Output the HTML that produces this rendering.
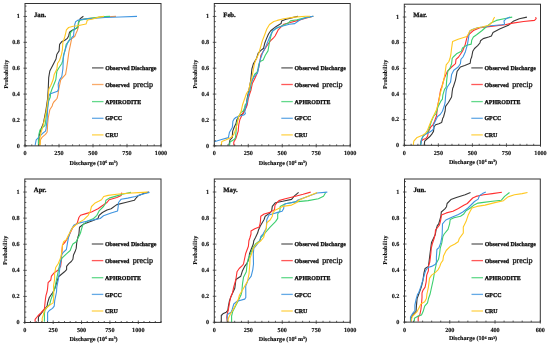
<!DOCTYPE html><html><head><meta charset="utf-8"><style>html,body{margin:0;padding:0;background:#fff;width:550px;height:344px;overflow:hidden}svg{display:block;will-change:transform;filter:blur(0.35px)}text{font-family:"Liberation Serif",serif;font-weight:bold;fill:#111;stroke:#111;stroke-width:0.3px;text-rendering:geometricPrecision}</style></head><body>
<svg width="550" height="344" viewBox="0 0 550 344">
<path d="M38.9 145.5 L39.5 134.4 L41.1 128.9 L43.3 123.5 L44.4 118 L46 109.8 L47.6 98.9 L48.2 90 L48.7 77.6 L49.8 71.1 L51.5 67.8 L54.2 62.4 L56 59 L56.9 54.2 L59.1 50.9 L59.6 44.4 L61.8 41.6 L64.5 40.5 L67.3 38.4 L68.6 36 L69.5 32.3 L71.8 30.5 L74.7 29.1 L77.3 27.9 L78.5 26.2 L78.5 23 L79.1 21.2 L80 18.9 L81.7 17.5 L83.4 16.3" fill="none" stroke="#383838" stroke-width="1.1" stroke-linejoin="round"/>
<path d="M40 145.5 L40.5 139.8 L42.2 137.1 L45.5 134.4 L47.1 132.2 L47.4 128.9 L47.6 124.5 L48.2 118 L49.8 109.8 L52.2 106 L52.8 103.7 L53.8 102 L55.6 100.2 L57 98.5 L57.5 96.7 L58 94.5 L58.8 89 L60.7 79.8 L65.6 74.4 L66.7 67.8 L67.8 60.2 L68.9 52 L70.5 44.4 L71.6 38.9 L74 37 L75 36 L76.2 32.9 L77.3 30.5 L78.2 27.6 L78.5 24.7 L78.6 21.8 L79.5 20 L82 19.2 L90 18.3 L100 17.3 L116 16.4" fill="none" stroke="#f79646" stroke-width="1.1" stroke-linejoin="round"/>
<path d="M38.4 145.5 L38.4 139.8 L38.9 134.4 L40 130 L42.2 127.8 L44.9 125.6 L45.5 122.4 L46 118 L47.1 109.8 L48.7 101 L50.3 97 L50.6 93 L52 89 L53.6 85.3 L55.8 79.8 L56.9 71.1 L59.6 66.7 L61.8 63.5 L62.9 60.2 L63.5 55.3 L65.1 49.8 L66.2 44.4 L68.9 41.1 L70 38.4 L70.4 32.9 L72.4 30.5 L75.9 28.5 L77.9 26.5 L78.2 24.1 L78.5 21.8 L80 20.1 L86 18.9 L95.9 17.5 L105 16.6 L110 16.4" fill="none" stroke="#3ccf6e" stroke-width="1.1" stroke-linejoin="round"/>
<path d="M35.1 145.5 L36.2 139.8 L38.9 137.1 L42.7 133.3 L45.5 131.1 L46 128.9 L46.5 124.5 L47.1 120.2 L47.6 109.8 L48.7 96.7 L49.8 94 L57.5 91.3 L58.5 89.1 L58.2 84.2 L59.6 79.8 L61.8 76.5 L62.9 68.9 L63.2 61.3 L63.2 59 L64 54.2 L66.2 46.5 L68.4 41.1 L71.1 38.9 L72.2 37 L73.6 36 L73.8 32.3 L74.4 28.8 L74.7 24.7 L75.6 21.8 L77.6 20.4 L80.5 19.5 L86.8 18.9 L95.9 18.2 L105 17.5 L120 17 L137 16.4" fill="none" stroke="#3f95e0" stroke-width="1.1" stroke-linejoin="round"/>
<path d="M40 145.5 L40 137.6 L41.1 132.2 L42.2 128.9 L43.3 124.5 L44.4 120.2 L44.9 118 L46.5 109.8 L48 98.9 L48.9 89 L50.9 85.3 L53.1 79.8 L54.2 74.4 L56.9 68.9 L57.5 63.5 L59.6 60.2 L61.3 55.3 L62.4 49.8 L62.9 42.2 L64.5 37.8 L65.6 33.5 L66.4 29.8 L68.6 27.5 L73.2 26.2 L77.7 25.7 L82.3 24.8 L86 24 L86.6 22.5 L87.1 20.6 L88.5 19.8 L91.8 19.3 L99 17.1 L104 16.4" fill="none" stroke="#ffc820" stroke-width="1.1" stroke-linejoin="round"/>
<rect x="25" y="3.5" width="136" height="142.35" fill="none" stroke="#333" stroke-width="1"/>
<path d="M23.5 145.85H27M25 140.67H26.5M25 135.5H26.5M25 130.32H26.5M25 125.14H26.5M23.5 119.97H27M25 114.79H26.5M25 109.62H26.5M25 104.44H26.5M25 99.26H26.5M23.5 94.09H27M25 88.91H26.5M25 83.73H26.5M25 78.56H26.5M25 73.38H26.5M23.5 68.2H27M25 63.03H26.5M25 57.85H26.5M25 52.68H26.5M25 47.5H26.5M23.5 42.32H27M25 37.15H26.5M25 31.97H26.5M25 26.79H26.5M25 21.62H26.5M23.5 16.44H27M25 11.26H26.5M25 6.09H26.5M25 147.35V143.85M31.8 145.85V144.35M38.6 145.85V144.35M45.4 145.85V144.35M52.2 145.85V144.35M59 147.35V143.85M65.8 145.85V144.35M72.6 145.85V144.35M79.4 145.85V144.35M86.2 145.85V144.35M93 147.35V143.85M99.8 145.85V144.35M106.6 145.85V144.35M113.4 145.85V144.35M120.2 145.85V144.35M127 147.35V143.85M133.8 145.85V144.35M140.6 145.85V144.35M147.4 145.85V144.35M154.2 145.85V144.35M161 147.35V143.85" stroke="#333" stroke-width="0.8" fill="none"/>
<text transform="translate(19.9 147.65)" font-size="6.2" text-anchor="end" style="stroke-width:0.13px">0</text>
<text transform="translate(19.9 121.77)" font-size="6.2" text-anchor="end" style="stroke-width:0.13px">0.2</text>
<text transform="translate(19.9 95.89)" font-size="6.2" text-anchor="end" style="stroke-width:0.13px">0.4</text>
<text transform="translate(19.9 70)" font-size="6.2" text-anchor="end" style="stroke-width:0.13px">0.6</text>
<text transform="translate(19.9 44.12)" font-size="6.2" text-anchor="end" style="stroke-width:0.13px">0.8</text>
<text transform="translate(19.9 18.24)" font-size="6.2" text-anchor="end" style="stroke-width:0.13px">1</text>
<text transform="translate(25 155.35)" font-size="6.2" text-anchor="middle" style="stroke-width:0.13px">0</text>
<text transform="translate(59 155.35)" font-size="6.2" text-anchor="middle" style="stroke-width:0.13px">250</text>
<text transform="translate(93 155.35)" font-size="6.2" text-anchor="middle" style="stroke-width:0.13px">500</text>
<text transform="translate(127 155.35)" font-size="6.2" text-anchor="middle" style="stroke-width:0.13px">750</text>
<text transform="translate(161 155.35)" font-size="6.2" text-anchor="middle" style="stroke-width:0.13px">1000</text>
<text transform="translate(7.6 74.17) rotate(-90)" font-size="6.0" text-anchor="middle" style="stroke-width:0.08px">Probability</text>
<text transform="translate(93.6 164.85)" font-size="6.1" text-anchor="middle" style="stroke-width:0.18px">Discharge (10<tspan font-size="3.8" dy="-1.9">6</tspan><tspan dy="1.9"> m</tspan><tspan font-size="3.8" dy="-1.9">3</tspan><tspan dy="1.9">)</tspan></text>
<text transform="translate(34 16.7)" font-size="6.7">Jan.</text>
<path d="M92 67.9H103.5" stroke="#383838" stroke-width="1.3" stroke-opacity="0.8"/>
<text x="105.2" y="70" font-size="5.95">Observed Discharge</text>
<path d="M92 84.5H103.5" stroke="#f79646" stroke-width="1.3" stroke-opacity="0.8"/>
<text transform="translate(105.2 86.6)" font-size="5.95">Observed</text>
<text transform="translate(132.9 86.9)" font-size="8.1" style="font-weight:normal;stroke-width:0.3px">precip</text>
<path d="M92 101.6H103.5" stroke="#3ccf6e" stroke-width="1.3" stroke-opacity="0.8"/>
<text x="105.2" y="103.7" font-size="5.95">APHRODITE</text>
<path d="M92 118.3H103.5" stroke="#3f95e0" stroke-width="1.3" stroke-opacity="0.8"/>
<text x="105.2" y="120.4" font-size="5.95">GPCC</text>
<path d="M92 134.9H103.5" stroke="#ffc820" stroke-width="1.3" stroke-opacity="0.8"/>
<text x="105.2" y="137" font-size="5.95">CRU</text>
<path d="M228.9 145.3 L230 139.8 L232.2 137.6 L232.7 131.1 L234.4 126.7 L236 123.5 L236.7 120.1 L237.6 118.4 L239.3 116 L241 114.9 L242.8 113.7 L244 111.4 L245.4 108.5 L246.5 104.4 L247.1 98.9 L249.3 88 L250.8 79.8 L251.9 68.9 L253.5 63.5 L256.5 58.5 L258.2 53.1 L260.9 50.4 L263.6 48.2 L264.7 43.3 L266.4 38.9 L268.5 34 L270.7 30.7 L276.2 26.4 L281.1 23.6 L281.6 20.9 L286 19.3 L292.5 17.6 L298 16.3" fill="none" stroke="#383838" stroke-width="1.1" stroke-linejoin="round"/>
<path d="M233.8 145.3 L233.8 142 L236 138.2 L238.2 131.1 L238.7 125 L239.9 119.5 L241.6 116 L242.5 114.3 L243.4 112.6 L244.5 110.8 L246 107.9 L247.2 105 L248.2 98.9 L249.8 93.5 L251 90 L252.3 83.6 L255.3 77.5 L257.5 72.2 L258.8 67 L260.1 60 L260.9 55.3 L263.6 50.9 L266.4 46.5 L270.2 41.1 L273.5 37.8 L275.1 36 L278.4 29.6 L283.8 24.2 L290.4 22.5 L298 20.4 L305.6 18.2 L313.3 16.2" fill="none" stroke="#ff3030" stroke-width="1.1" stroke-linejoin="round"/>
<path d="M229.5 145.3 L230 142 L234.4 139.3 L235.5 137.6 L236 132.2 L236.5 126.7 L236.4 125 L237.6 120.1 L238.7 116.6 L240.8 112.6 L243.4 110.8 L244.5 107.9 L245.1 105 L246.5 103 L247.6 98.9 L248.7 93.5 L250.1 90 L251.4 82.7 L253.6 76.6 L254.9 74 L257.1 72.2 L258 68.7 L258.8 64.4 L259.7 61.7 L263.2 60 L265.3 55.3 L268 50.9 L269.1 44.4 L270.2 38.9 L271.3 34.5 L272.4 31.3 L275.1 29.1 L280.5 26.4 L288.2 23.1 L290.4 20.9 L296.9 19.8 L305.6 17.6 L313.3 16.2" fill="none" stroke="#3ccf6e" stroke-width="1.1" stroke-linejoin="round"/>
<path d="M214.3 141.8 L220.7 139.8 L228.4 137.6 L229.5 132.2 L232.2 127.8 L232.6 125 L232.9 121.3 L234.1 119 L235.8 117.5 L238.1 116.6 L241.6 115.5 L244 114.9 L245.4 113.7 L244.8 112 L245.1 109.7 L245.7 106.7 L246.3 105 L247.1 102 L248.7 93.5 L249.7 90 L250.5 84.4 L252.7 79.2 L254.9 75.7 L257.5 73.1 L258.8 67 L260.1 60 L262.5 53.1 L265.8 46.5 L268.5 40 L271.3 33.5 L272.9 30.7 L277.3 27.5 L283.8 25.8 L289.3 24.2 L294.7 23.6 L296.9 22 L300.2 19.8 L307.8 17.1 L313.3 16.2" fill="none" stroke="#3f95e0" stroke-width="1.1" stroke-linejoin="round"/>
<path d="M221.3 145.3 L221.8 141.5 L226.2 139.8 L231.1 137.6 L233.8 134.4 L235.5 130 L236.5 126 L237 125 L237.6 121.3 L238.7 116.6 L240.2 113.7 L241.3 110.8 L241.9 107.9 L242.5 105 L243.8 101.1 L246.5 93.5 L248.8 90 L250.1 83.6 L251.9 77.5 L253.2 70.5 L254.5 63.5 L255.8 60 L258.7 53.7 L261 45.6 L262.3 40.9 L264.6 35 L266.8 29 L269.5 24.5 L273.8 21.5 L277.3 20.4 L283.8 18.7 L294.7 17.1 L305.6 16.2 L310 16.2" fill="none" stroke="#ffc820" stroke-width="1.1" stroke-linejoin="round"/>
<rect x="214.3" y="3.5" width="135.9" height="142.35" fill="none" stroke="#333" stroke-width="1"/>
<path d="M212.8 145.85H216.3M214.3 140.67H215.8M214.3 135.5H215.8M214.3 130.32H215.8M214.3 125.14H215.8M212.8 119.97H216.3M214.3 114.79H215.8M214.3 109.62H215.8M214.3 104.44H215.8M214.3 99.26H215.8M212.8 94.09H216.3M214.3 88.91H215.8M214.3 83.73H215.8M214.3 78.56H215.8M214.3 73.38H215.8M212.8 68.2H216.3M214.3 63.03H215.8M214.3 57.85H215.8M214.3 52.68H215.8M214.3 47.5H215.8M212.8 42.32H216.3M214.3 37.15H215.8M214.3 31.97H215.8M214.3 26.79H215.8M214.3 21.62H215.8M212.8 16.44H216.3M214.3 11.26H215.8M214.3 6.09H215.8M214.3 147.35V143.85M221.09 145.85V144.35M227.89 145.85V144.35M234.69 145.85V144.35M241.48 145.85V144.35M248.28 147.35V143.85M255.07 145.85V144.35M261.87 145.85V144.35M268.66 145.85V144.35M275.45 145.85V144.35M282.25 147.35V143.85M289.04 145.85V144.35M295.84 145.85V144.35M302.63 145.85V144.35M309.43 145.85V144.35M316.22 147.35V143.85M323.02 145.85V144.35M329.81 145.85V144.35M336.61 145.85V144.35M343.4 145.85V144.35M350.2 147.35V143.85" stroke="#333" stroke-width="0.8" fill="none"/>
<text transform="translate(209.2 147.65)" font-size="6.2" text-anchor="end" style="stroke-width:0.13px">0</text>
<text transform="translate(209.2 121.77)" font-size="6.2" text-anchor="end" style="stroke-width:0.13px">0.2</text>
<text transform="translate(209.2 95.89)" font-size="6.2" text-anchor="end" style="stroke-width:0.13px">0.4</text>
<text transform="translate(209.2 70)" font-size="6.2" text-anchor="end" style="stroke-width:0.13px">0.6</text>
<text transform="translate(209.2 44.12)" font-size="6.2" text-anchor="end" style="stroke-width:0.13px">0.8</text>
<text transform="translate(209.2 18.24)" font-size="6.2" text-anchor="end" style="stroke-width:0.13px">1</text>
<text transform="translate(214.3 155.35)" font-size="6.2" text-anchor="middle" style="stroke-width:0.13px">0</text>
<text transform="translate(248.28 155.35)" font-size="6.2" text-anchor="middle" style="stroke-width:0.13px">250</text>
<text transform="translate(282.25 155.35)" font-size="6.2" text-anchor="middle" style="stroke-width:0.13px">500</text>
<text transform="translate(316.22 155.35)" font-size="6.2" text-anchor="middle" style="stroke-width:0.13px">750</text>
<text transform="translate(350.2 155.35)" font-size="6.2" text-anchor="middle" style="stroke-width:0.13px">1000</text>
<text transform="translate(196.9 74.17) rotate(-90)" font-size="6.0" text-anchor="middle" style="stroke-width:0.08px">Probability</text>
<text transform="translate(282.85 164.85)" font-size="6.1" text-anchor="middle" style="stroke-width:0.18px">Discharge (10<tspan font-size="3.8" dy="-1.9">6</tspan><tspan dy="1.9"> m</tspan><tspan font-size="3.8" dy="-1.9">3</tspan><tspan dy="1.9">)</tspan></text>
<text transform="translate(223.3 16.7)" font-size="6.7">Feb.</text>
<path d="M281.3 67.9H292.8" stroke="#383838" stroke-width="1.3" stroke-opacity="0.8"/>
<text x="294.5" y="70" font-size="5.95">Observed Discharge</text>
<path d="M281.3 84.5H292.8" stroke="#ff3030" stroke-width="1.3" stroke-opacity="0.8"/>
<text transform="translate(294.5 86.6)" font-size="5.95">Observed</text>
<text transform="translate(322.2 86.9)" font-size="8.1" style="font-weight:normal;stroke-width:0.3px">precip</text>
<path d="M281.3 101.6H292.8" stroke="#3ccf6e" stroke-width="1.3" stroke-opacity="0.8"/>
<text x="294.5" y="103.7" font-size="5.95">APHRODITE</text>
<path d="M281.3 118.3H292.8" stroke="#3f95e0" stroke-width="1.3" stroke-opacity="0.8"/>
<text x="294.5" y="120.4" font-size="5.95">GPCC</text>
<path d="M281.3 134.9H292.8" stroke="#ffc820" stroke-width="1.3" stroke-opacity="0.8"/>
<text x="294.5" y="137" font-size="5.95">CRU</text>
<path d="M424.2 145 L424.7 141.2 L426.9 139 L429.6 136.8 L431.8 134.1 L433.5 131.4 L434 127 L435.6 124.8 L438.9 123.7 L441.6 122.6 L442.2 120.5 L442.7 118.3 L443.5 117 L445.1 111.2 L445.6 106.3 L448.4 102.5 L451.6 97 L452.2 91.5 L452.7 88.3 L453.3 87 L455.5 80.1 L457.1 71.4 L460.4 67 L464.7 65.4 L470.2 63.2 L470.7 59.4 L471.7 57 L472.8 51.2 L474.5 48.5 L477.7 45.7 L479.9 43 L480.5 40.8 L483.2 38.6 L488.6 37 L491.4 35.9 L493 32.6 L499.6 29.1 L508.4 25.3 L513.8 20.9 L519.3 18.7 L526.9 17.1" fill="none" stroke="#383838" stroke-width="1.1" stroke-linejoin="round"/>
<path d="M420.4 145 L420.9 141.2 L423.1 139.5 L425.8 138.5 L427.5 136.3 L428.5 131.4 L430.7 127 L432.9 124.8 L434.5 121.5 L435.6 118.3 L436.5 116 L437.5 106.8 L439.6 95.9 L440.7 89.4 L441.8 87 L444 79 L447.3 71.4 L451.6 67 L455.5 63.7 L456 59.4 L458.6 57 L462.5 51.2 L465.2 44.6 L466.8 38.1 L468.5 34.8 L473.4 30.5 L479.9 27.7 L490.9 26.4 L505.1 24.7 L512.7 23.1 L523.6 21.5 L534.5 20.4 L536.2 18.7 L535.6 17.1" fill="none" stroke="#ff3030" stroke-width="1.1" stroke-linejoin="round"/>
<path d="M420.4 145 L421.5 139 L423.6 135.7 L427.5 132.5 L429.6 127 L431.3 121.5 L433.5 116.5 L435.8 114 L438 106.8 L440.7 101.4 L442.4 99.2 L442.9 94.8 L444.5 89.4 L446.2 87 L446.7 80.1 L447.8 71.4 L450 68.1 L451.6 63.7 L452.2 58.3 L453.2 57 L457 53.4 L461.4 51.2 L462.5 47.9 L466.8 45.2 L471.2 44.1 L471.7 40.3 L473.4 37 L476.6 34.8 L482.1 30.5 L485.5 27.5 L490.9 23.1 L496.4 20.4 L504 18.7 L512.2 17.1" fill="none" stroke="#3ccf6e" stroke-width="1.1" stroke-linejoin="round"/>
<path d="M420.9 145 L421.5 140.1 L423.1 135.7 L425.8 134.1 L429.1 132.5 L432.4 130.3 L434 128.1 L433.5 124.8 L435.1 121.5 L436.7 118.3 L437.5 116.5 L440.2 114.5 L442.4 111.2 L444 106.8 L445.1 102.5 L445.6 95.9 L446.2 90.5 L447.3 87 L450.5 82.3 L451.6 74.6 L453.8 70.3 L458.2 67 L460.4 63.7 L460.9 59.4 L463 57 L465.2 52.3 L467.4 44.6 L468.5 38.1 L469.5 31.5 L472.3 29.4 L477.7 27.7 L490.9 25.8 L501.8 24.7 L504.5 24.2 L504 20.9 L506.2 18.7 L510 17.1" fill="none" stroke="#3f95e0" stroke-width="1.1" stroke-linejoin="round"/>
<path d="M413.3 145 L413.8 141.2 L417.1 137.4 L422.5 135.2 L425.3 133.5 L427.5 130.3 L429.6 124.8 L431.8 119.4 L433.5 116 L436.4 110.1 L438.5 102.5 L440.2 93.7 L441.8 88 L444 79 L445.1 72.5 L446.2 64.8 L448.9 61.5 L450 58.3 L450.8 55 L451.5 49 L452.6 41.4 L458.1 39.2 L466.8 36.5 L468.5 33.7 L470.1 30.5 L477.7 27.7 L482 27 L488.7 25.3 L492.5 22 L493.6 18.7 L494.7 17.1" fill="none" stroke="#ffc820" stroke-width="1.1" stroke-linejoin="round"/>
<rect x="404.3" y="4.2" width="136.2" height="141.1" fill="none" stroke="#333" stroke-width="1"/>
<path d="M402.8 145.3H406.3M404.3 140.17H405.8M404.3 135.04H405.8M404.3 129.91H405.8M404.3 124.78H405.8M402.8 119.65H406.3M404.3 114.51H405.8M404.3 109.38H405.8M404.3 104.25H405.8M404.3 99.12H405.8M402.8 93.99H406.3M404.3 88.86H405.8M404.3 83.73H405.8M404.3 78.6H405.8M404.3 73.47H405.8M402.8 68.34H406.3M404.3 63.21H405.8M404.3 58.07H405.8M404.3 52.94H405.8M404.3 47.81H405.8M402.8 42.68H406.3M404.3 37.55H405.8M404.3 32.42H405.8M404.3 27.29H405.8M404.3 22.16H405.8M402.8 17.03H406.3M404.3 11.9H405.8M404.3 6.77H405.8M404.3 146.8V143.3M411.11 145.3V143.8M417.92 145.3V143.8M424.73 145.3V143.8M431.54 145.3V143.8M438.35 146.8V143.3M445.16 145.3V143.8M451.97 145.3V143.8M458.78 145.3V143.8M465.59 145.3V143.8M472.4 146.8V143.3M479.21 145.3V143.8M486.02 145.3V143.8M492.83 145.3V143.8M499.64 145.3V143.8M506.45 146.8V143.3M513.26 145.3V143.8M520.07 145.3V143.8M526.88 145.3V143.8M533.69 145.3V143.8M540.5 146.8V143.3" stroke="#333" stroke-width="0.8" fill="none"/>
<text transform="translate(399.2 147.1)" font-size="6.2" text-anchor="end" style="stroke-width:0.13px">0</text>
<text transform="translate(399.2 121.45)" font-size="6.2" text-anchor="end" style="stroke-width:0.13px">0.2</text>
<text transform="translate(399.2 95.79)" font-size="6.2" text-anchor="end" style="stroke-width:0.13px">0.4</text>
<text transform="translate(399.2 70.14)" font-size="6.2" text-anchor="end" style="stroke-width:0.13px">0.6</text>
<text transform="translate(399.2 44.48)" font-size="6.2" text-anchor="end" style="stroke-width:0.13px">0.8</text>
<text transform="translate(399.2 18.83)" font-size="6.2" text-anchor="end" style="stroke-width:0.13px">1</text>
<text transform="translate(404.3 154.8)" font-size="6.2" text-anchor="middle" style="stroke-width:0.13px">0</text>
<text transform="translate(438.35 154.8)" font-size="6.2" text-anchor="middle" style="stroke-width:0.13px">250</text>
<text transform="translate(472.4 154.8)" font-size="6.2" text-anchor="middle" style="stroke-width:0.13px">500</text>
<text transform="translate(506.45 154.8)" font-size="6.2" text-anchor="middle" style="stroke-width:0.13px">750</text>
<text transform="translate(540.5 154.8)" font-size="6.2" text-anchor="middle" style="stroke-width:0.13px">1000</text>
<text transform="translate(386.9 74.25) rotate(-90)" font-size="6.0" text-anchor="middle" style="stroke-width:0.08px">Probability</text>
<text transform="translate(473 164.3)" font-size="6.1" text-anchor="middle" style="stroke-width:0.18px">Discharge (10<tspan font-size="3.8" dy="-1.9">6</tspan><tspan dy="1.9"> m</tspan><tspan font-size="3.8" dy="-1.9">3</tspan><tspan dy="1.9">)</tspan></text>
<text transform="translate(413.3 16.7)" font-size="6.7">Mar.</text>
<path d="M471.3 67.9H482.8" stroke="#383838" stroke-width="1.3" stroke-opacity="0.8"/>
<text x="484.5" y="70" font-size="5.95">Observed Discharge</text>
<path d="M471.3 84.5H482.8" stroke="#ff3030" stroke-width="1.3" stroke-opacity="0.8"/>
<text transform="translate(484.5 86.6)" font-size="5.95">Observed</text>
<text transform="translate(512.2 86.9)" font-size="8.1" style="font-weight:normal;stroke-width:0.3px">precip</text>
<path d="M471.3 101.6H482.8" stroke="#3ccf6e" stroke-width="1.3" stroke-opacity="0.8"/>
<text x="484.5" y="103.7" font-size="5.95">APHRODITE</text>
<path d="M471.3 118.3H482.8" stroke="#3f95e0" stroke-width="1.3" stroke-opacity="0.8"/>
<text x="484.5" y="120.4" font-size="5.95">GPCC</text>
<path d="M471.3 134.9H482.8" stroke="#ffc820" stroke-width="1.3" stroke-opacity="0.8"/>
<text x="484.5" y="137" font-size="5.95">CRU</text>
<path d="M38.4 321.7 L38.4 317.1 L40 314.9 L42.2 312.2 L44.4 309.5 L47.1 306.2 L47.6 302.9 L49.3 297.5 L51.5 294.2 L52.5 293 L55 288 L58.5 276.7 L61.2 274.5 L64.5 271.8 L66.6 269.6 L66.6 266.4 L68.8 263.6 L71.3 261.5 L72.9 259.3 L73.5 254.9 L75.1 251.6 L76.2 248.4 L76.7 242.9 L77.8 237.5 L78.9 234.2 L79.5 227.3 L83.8 224 L92.5 220.7 L98 218.5 L99.1 215.3 L102.4 212.5 L107 210 L111.1 208.7 L116.8 204.6 L125.5 202.5 L134.3 200.3 L136.5 197.5 L138.6 195.4 L146.3 192.6 L149 192" fill="none" stroke="#383838" stroke-width="1.1" stroke-linejoin="round"/>
<path d="M35.1 321.7 L35.1 319.3 L37.8 316 L41.1 312.7 L44.4 308.9 L44.9 304 L45.5 298.5 L46 295.3 L47 292 L47.5 289.3 L48.1 282.7 L50.8 280 L51.4 276.2 L54.1 272.9 L57.9 270.2 L60.6 266.4 L61.2 262 L62 250.5 L62.5 245.1 L65.3 241.8 L67.5 238.5 L69.6 234.2 L72.9 227.3 L77.3 222.9 L78.9 217.5 L80.5 215.3 L86 213.6 L91.5 212 L98 208.7 L101.5 206.3 L107 202.5 L109.2 199.7 L116.8 197.5 L121.2 195.4 L121.7 192.6" fill="none" stroke="#ff3030" stroke-width="1.1" stroke-linejoin="round"/>
<path d="M44.4 321.7 L44.4 313.8 L44.9 310.5 L47.1 307.3 L49.8 304 L50.9 299.6 L52.5 295.3 L53.5 292 L54.6 289.3 L56.3 280.5 L57.9 272.9 L59 267.5 L60 263 L62 258.2 L66.4 253.8 L70.2 250.5 L71.8 246.2 L72.9 244 L76.2 241.8 L77.8 238.5 L79.5 235.3 L80.8 232 L81.1 230.5 L82.7 225.1 L87.1 221.3 L93.6 218.5 L96.9 215.3 L99.1 210.9 L103.5 206.5 L105.2 204 L105.9 200.3 L109.2 198.1 L116.8 195.9 L122.3 194.3 L131 192.4" fill="none" stroke="#3ccf6e" stroke-width="1.1" stroke-linejoin="round"/>
<path d="M47.6 321.7 L47.6 312.7 L49.3 310.5 L52.5 308.4 L54.2 306.2 L54.7 300.7 L55.8 295.3 L56.5 292 L56.8 287.1 L58.5 278.4 L59.5 270.7 L60.4 264 L61.5 254.9 L63.1 252.7 L66.4 249.5 L67.5 242.9 L68.5 237.5 L70.2 232 L70.7 230.5 L74 225.1 L79.5 222.9 L87.1 221.3 L94.7 219.6 L100.2 218.5 L103.5 215.8 L111.1 213.1 L117.6 210.9 L118.2 206.5 L118.5 202.5 L121.2 199.2 L127.7 198.1 L135.4 196.5 L138.6 195.4 L144.1 193.7 L149.5 192.4" fill="none" stroke="#3f95e0" stroke-width="1.1" stroke-linejoin="round"/>
<path d="M42.2 321.7 L42.2 318.2 L43.3 314.9 L44.4 310.5 L46.5 307.8 L49.8 305.1 L53.1 302.9 L53.6 298.5 L53.8 294.2 L53.5 286 L54.6 279.5 L54.6 274 L55.7 267.5 L58.3 263.5 L60.9 257.1 L62 250.5 L62.5 245.1 L63.6 241.8 L66.4 239.6 L68.5 235 L72.9 227.3 L78.4 222.9 L83.8 219.6 L88.2 215.3 L90.4 210.9 L91.5 206.5 L94.7 203.3 L99.1 201.1 L101.5 199.7 L103.7 196.5 L108.1 195.4 L116.8 194.3 L127.7 193.2 L138.6 192.6 L147.4 192.1" fill="none" stroke="#ffc820" stroke-width="1.1" stroke-linejoin="round"/>
<rect x="24.8" y="179" width="136.2" height="143.5" fill="none" stroke="#333" stroke-width="1"/>
<path d="M23.3 322.5H26.8M24.8 317.28H26.3M24.8 312.06H26.3M24.8 306.85H26.3M24.8 301.63H26.3M23.3 296.41H26.8M24.8 291.19H26.3M24.8 285.97H26.3M24.8 280.75H26.3M24.8 275.54H26.3M23.3 270.32H26.8M24.8 265.1H26.3M24.8 259.88H26.3M24.8 254.66H26.3M24.8 249.45H26.3M23.3 244.23H26.8M24.8 239.01H26.3M24.8 233.79H26.3M24.8 228.57H26.3M24.8 223.35H26.3M23.3 218.14H26.8M24.8 212.92H26.3M24.8 207.7H26.3M24.8 202.48H26.3M24.8 197.26H26.3M23.3 192.05H26.8M24.8 186.83H26.3M24.8 181.61H26.3M24.8 324V320.5M30.48 322.5V321M36.15 322.5V321M41.83 322.5V321M47.5 322.5V321M53.17 324V320.5M58.85 322.5V321M64.52 322.5V321M70.2 322.5V321M75.88 322.5V321M81.55 324V320.5M87.22 322.5V321M92.9 322.5V321M98.57 322.5V321M104.25 322.5V321M109.92 324V320.5M115.6 322.5V321M121.27 322.5V321M126.95 322.5V321M132.62 322.5V321M138.3 324V320.5M143.97 322.5V321M149.65 322.5V321M155.32 322.5V321M161 322.5V321" stroke="#333" stroke-width="0.8" fill="none"/>
<text transform="translate(19.7 324.3)" font-size="6.2" text-anchor="end" style="stroke-width:0.13px">0</text>
<text transform="translate(19.7 298.21)" font-size="6.2" text-anchor="end" style="stroke-width:0.13px">0.2</text>
<text transform="translate(19.7 272.12)" font-size="6.2" text-anchor="end" style="stroke-width:0.13px">0.4</text>
<text transform="translate(19.7 246.03)" font-size="6.2" text-anchor="end" style="stroke-width:0.13px">0.6</text>
<text transform="translate(19.7 219.94)" font-size="6.2" text-anchor="end" style="stroke-width:0.13px">0.8</text>
<text transform="translate(19.7 193.85)" font-size="6.2" text-anchor="end" style="stroke-width:0.13px">1</text>
<text transform="translate(24.8 332)" font-size="6.2" text-anchor="middle" style="stroke-width:0.13px">0</text>
<text transform="translate(53.17 332)" font-size="6.2" text-anchor="middle" style="stroke-width:0.13px">250</text>
<text transform="translate(81.55 332)" font-size="6.2" text-anchor="middle" style="stroke-width:0.13px">500</text>
<text transform="translate(109.92 332)" font-size="6.2" text-anchor="middle" style="stroke-width:0.13px">750</text>
<text transform="translate(138.3 332)" font-size="6.2" text-anchor="middle" style="stroke-width:0.13px">1000</text>
<text transform="translate(7.4 250.25) rotate(-90)" font-size="6.0" text-anchor="middle" style="stroke-width:0.08px">Probability</text>
<text transform="translate(93.5 340.8)" font-size="6.1" text-anchor="middle" style="stroke-width:0.18px">Discharge (10<tspan font-size="3.8" dy="-1.9">6</tspan><tspan dy="1.9"> m</tspan><tspan font-size="3.8" dy="-1.9">3</tspan><tspan dy="1.9">)</tspan></text>
<text transform="translate(33.8 192.4)" font-size="6.7">Apr.</text>
<path d="M91.8 244H103.3" stroke="#383838" stroke-width="1.3" stroke-opacity="0.8"/>
<text x="105" y="246.1" font-size="5.95">Observed Discharge</text>
<path d="M91.8 260.6H103.3" stroke="#ff3030" stroke-width="1.3" stroke-opacity="0.8"/>
<text transform="translate(105 262.7)" font-size="5.95">Observed</text>
<text transform="translate(132.7 262.5)" font-size="8.1" style="font-weight:normal;stroke-width:0.3px">precip</text>
<path d="M91.8 277.7H103.3" stroke="#3ccf6e" stroke-width="1.3" stroke-opacity="0.8"/>
<text x="105" y="279.8" font-size="5.95">APHRODITE</text>
<path d="M91.8 294.4H103.3" stroke="#3f95e0" stroke-width="1.3" stroke-opacity="0.8"/>
<text x="105" y="296.5" font-size="5.95">GPCC</text>
<path d="M91.8 311H103.3" stroke="#ffc820" stroke-width="1.3" stroke-opacity="0.8"/>
<text x="105" y="313.1" font-size="5.95">CRU</text>
<path d="M221.3 322 L221.3 315.5 L222.9 313.8 L226.2 312.2 L227.8 310.5 L228.4 306.2 L229.5 300.7 L231.1 296.4 L232.6 293 L234.8 288.2 L235.9 279.5 L240.8 276.2 L242.5 270.7 L244.6 266.4 L246.8 263.6 L248 261 L248.9 258.2 L249.5 253.8 L251.1 249.5 L253.3 244 L253.8 240.7 L255.5 237.5 L257.6 233.1 L258.5 230 L260.3 226 L264.1 219.5 L265.2 216.2 L270.1 212.9 L271.7 210.7 L272.3 206.4 L275 203.1 L276.4 202.5 L282.7 201.3 L291.6 199.4 L294.2 196.2 L298.6 192.4" fill="none" stroke="#383838" stroke-width="1.1" stroke-linejoin="round"/>
<path d="M227.3 322 L226.7 317.1 L227.3 313.8 L228.4 309.5 L229.5 302.9 L230.5 297.5 L232.5 293 L233.7 287.1 L235.9 279.5 L237 271.8 L239.2 268.5 L242.5 265.3 L243.5 264 L245.6 253.8 L248.4 246.2 L248.9 240.7 L250 237.5 L251 234 L251 230.9 L254.8 228.7 L259.2 227.1 L260.3 222.7 L260.8 216.2 L264.1 214 L270.1 212.4 L274.5 209.6 L275 205.3 L276.6 203.1 L278.9 200.6 L285.3 198.7 L295.5 196.2 L303.1 194.3 L310.7 192.1" fill="none" stroke="#ff3030" stroke-width="1.1" stroke-linejoin="round"/>
<path d="M231.6 322 L231.6 316 L232.7 311.6 L234.9 307.3 L238.2 300.7 L240.9 295.3 L241.8 292 L242.5 283.8 L243.5 277.3 L246.3 271.8 L247 265 L248.4 258.2 L250.5 253.8 L252.7 248.4 L255.5 244 L259.8 240.7 L260.9 237.5 L264.2 234.2 L265 233 L270.1 227.1 L275.5 221.6 L277.7 218.4 L277.7 214 L279.9 210.7 L280.2 206.4 L285.3 203.8 L295.5 201.9 L308.2 200.6 L318.4 198.7 L323.5 196.2 L325.4 193 L324.7 192.1" fill="none" stroke="#3ccf6e" stroke-width="1.1" stroke-linejoin="round"/>
<path d="M227.3 322 L227.3 314.4 L231.1 312.2 L232.2 309.5 L233.8 304 L237.1 301.3 L244.7 299.1 L245.8 297.5 L245.8 292 L245.7 286 L247.9 280.5 L251.2 276.2 L252.8 269.6 L253.5 264 L253.3 253.8 L253.8 248.4 L256.5 245.1 L259.8 240.7 L260.9 236.4 L263 234 L266.3 228.2 L266.8 219.5 L269 215.1 L272.3 214 L277.7 212.4 L282.1 211.3 L283.7 208.5 L284 205 L285.3 203.8 L295.5 201.9 L298 200 L308.2 196.2 L317.1 193 L327.3 192.1" fill="none" stroke="#3f95e0" stroke-width="1.1" stroke-linejoin="round"/>
<path d="M227.8 322 L228.4 318.2 L230.5 313.8 L232.7 310.5 L235.5 305.1 L238.2 299.6 L239.5 295 L243.5 288.2 L247.4 281.6 L249 274 L249.8 264 L250 258.2 L251.6 253.8 L253.3 248.4 L256.5 244 L260.9 240.7 L263.6 237.5 L264.5 234 L266.3 228.2 L266.8 222.7 L270.1 220 L272.3 216.2 L272.8 212.9 L275 210.2 L277.6 208.9 L282.7 206.4 L291.6 205.1 L296.7 202.5 L299.3 200 L308.2 196.2 L317.1 192.4" fill="none" stroke="#ffc820" stroke-width="1.1" stroke-linejoin="round"/>
<rect x="214.3" y="179" width="135.9" height="143.3" fill="none" stroke="#333" stroke-width="1"/>
<path d="M212.8 322.3H216.3M214.3 317.09H215.8M214.3 311.88H215.8M214.3 306.67H215.8M214.3 301.46H215.8M212.8 296.25H216.3M214.3 291.03H215.8M214.3 285.82H215.8M214.3 280.61H215.8M214.3 275.4H215.8M212.8 270.19H216.3M214.3 264.98H215.8M214.3 259.77H215.8M214.3 254.56H215.8M214.3 249.35H215.8M212.8 244.14H216.3M214.3 238.93H215.8M214.3 233.71H215.8M214.3 228.5H215.8M214.3 223.29H215.8M212.8 218.08H216.3M214.3 212.87H215.8M214.3 207.66H215.8M214.3 202.45H215.8M214.3 197.24H215.8M212.8 192.03H216.3M214.3 186.82H215.8M214.3 181.61H215.8M214.3 323.8V320.3M221.09 322.3V320.8M227.89 322.3V320.8M234.69 322.3V320.8M241.48 322.3V320.8M248.28 323.8V320.3M255.07 322.3V320.8M261.87 322.3V320.8M268.66 322.3V320.8M275.45 322.3V320.8M282.25 323.8V320.3M289.04 322.3V320.8M295.84 322.3V320.8M302.63 322.3V320.8M309.43 322.3V320.8M316.22 323.8V320.3M323.02 322.3V320.8M329.81 322.3V320.8M336.61 322.3V320.8M343.4 322.3V320.8M350.2 323.8V320.3" stroke="#333" stroke-width="0.8" fill="none"/>
<text transform="translate(209.2 324.1)" font-size="6.2" text-anchor="end" style="stroke-width:0.13px">0</text>
<text transform="translate(209.2 298.05)" font-size="6.2" text-anchor="end" style="stroke-width:0.13px">0.2</text>
<text transform="translate(209.2 271.99)" font-size="6.2" text-anchor="end" style="stroke-width:0.13px">0.4</text>
<text transform="translate(209.2 245.94)" font-size="6.2" text-anchor="end" style="stroke-width:0.13px">0.6</text>
<text transform="translate(209.2 219.88)" font-size="6.2" text-anchor="end" style="stroke-width:0.13px">0.8</text>
<text transform="translate(209.2 193.83)" font-size="6.2" text-anchor="end" style="stroke-width:0.13px">1</text>
<text transform="translate(214.3 331.8)" font-size="6.2" text-anchor="middle" style="stroke-width:0.13px">0</text>
<text transform="translate(248.28 331.8)" font-size="6.2" text-anchor="middle" style="stroke-width:0.13px">250</text>
<text transform="translate(282.25 331.8)" font-size="6.2" text-anchor="middle" style="stroke-width:0.13px">500</text>
<text transform="translate(316.22 331.8)" font-size="6.2" text-anchor="middle" style="stroke-width:0.13px">750</text>
<text transform="translate(350.2 331.8)" font-size="6.2" text-anchor="middle" style="stroke-width:0.13px">1000</text>
<text transform="translate(196.9 250.15) rotate(-90)" font-size="6.0" text-anchor="middle" style="stroke-width:0.08px">Probability</text>
<text transform="translate(282.85 340.6)" font-size="6.1" text-anchor="middle" style="stroke-width:0.18px">Discharge (10<tspan font-size="3.8" dy="-1.9">6</tspan><tspan dy="1.9"> m</tspan><tspan font-size="3.8" dy="-1.9">3</tspan><tspan dy="1.9">)</tspan></text>
<text transform="translate(223.3 192.4)" font-size="6.7">May.</text>
<path d="M281.3 244H292.8" stroke="#383838" stroke-width="1.3" stroke-opacity="0.8"/>
<text x="294.5" y="246.1" font-size="5.95">Observed Discharge</text>
<path d="M281.3 260.6H292.8" stroke="#ff3030" stroke-width="1.3" stroke-opacity="0.8"/>
<text transform="translate(294.5 262.7)" font-size="5.95">Observed</text>
<text transform="translate(322.2 262.5)" font-size="8.1" style="font-weight:normal;stroke-width:0.3px">precip</text>
<path d="M281.3 277.7H292.8" stroke="#3ccf6e" stroke-width="1.3" stroke-opacity="0.8"/>
<text x="294.5" y="279.8" font-size="5.95">APHRODITE</text>
<path d="M281.3 294.4H292.8" stroke="#3f95e0" stroke-width="1.3" stroke-opacity="0.8"/>
<text x="294.5" y="296.5" font-size="5.95">GPCC</text>
<path d="M281.3 311H292.8" stroke="#ffc820" stroke-width="1.3" stroke-opacity="0.8"/>
<text x="294.5" y="313.1" font-size="5.95">CRU</text>
<path d="M411.1 321.5 L411.1 318.2 L412.7 314.9 L416 311.6 L416.5 305.1 L417.1 298.5 L418.7 294.2 L419.5 292 L421.3 287.1 L422.9 280.5 L424 272.9 L425.1 268.5 L428.4 266.4 L429 262 L430 253.8 L431 246.2 L431.5 242.5 L433.3 238.8 L435.3 234.5 L436.2 229.4 L437.3 225.7 L438.7 223.8 L440.9 216.2 L441.3 212 L444.9 208.9 L446.5 206.7 L447.1 203.5 L450.9 199.6 L456.4 197.5 L465.1 194.7 L470.5 192.5" fill="none" stroke="#383838" stroke-width="1.1" stroke-linejoin="round"/>
<path d="M418.2 321.5 L418.2 317.1 L419.8 314.9 L420.9 309.5 L421.5 304 L422 297.5 L422 293 L422.9 290.4 L425.1 287.1 L426.2 281.6 L426.7 275.1 L428.4 270.7 L428.4 266.4 L429.8 262 L430.8 253.8 L431.3 248 L432.5 243.2 L434 238.8 L435.1 234.5 L435.5 230.1 L437.2 228 L439.5 224.9 L440.6 220.5 L441.5 215.1 L446.4 212.9 L452.9 211.3 L458.4 208.5 L463.8 205.3 L467.3 203.5 L472.7 198 L476 196.4 L483.6 194.7 L492.4 193.6 L501.9 192.3" fill="none" stroke="#ff3030" stroke-width="1.1" stroke-linejoin="round"/>
<path d="M414.4 321.5 L414.4 318.2 L418.2 316 L421.5 314.9 L423.1 311.6 L424.7 306.2 L427.5 302.9 L428.5 298.5 L430.1 294 L431.6 287.1 L433.3 279.5 L434.4 272.9 L435.5 267.5 L436.5 263 L438.5 259.3 L439.6 253.8 L440.2 248.4 L441.8 242.9 L442.9 236.4 L444.2 234 L448 229.3 L449.6 223.8 L450.2 219.5 L454 217.8 L460.5 216.2 L463.8 214 L466 210.7 L470.4 208 L473.6 205.3 L478 203.1 L483.6 202.4 L492.4 201.3 L501.4 200.2 L504.6 196.4 L509.5 192.5" fill="none" stroke="#3ccf6e" stroke-width="1.1" stroke-linejoin="round"/>
<path d="M410.5 321.5 L410.5 317.1 L412.7 313.3 L414.9 310.5 L414.9 305.1 L416 299.6 L417.6 294.2 L418.6 293 L420.7 287.1 L422.4 281.6 L424 276.2 L425.6 270.7 L427.8 267.5 L431.6 266.4 L435.5 264.2 L436.4 262 L436.4 257.1 L436.9 249.5 L439.1 247.3 L440.7 242.9 L441.8 237.5 L442.2 234 L442.5 223.8 L445.8 220 L451.8 217.3 L458.4 214.5 L462.8 212 L468 208 L472 204 L474.5 201.5 L478.2 199.1 L479.3 195.8 L482.5 193.6 L485.8 192" fill="none" stroke="#3f95e0" stroke-width="1.1" stroke-linejoin="round"/>
<path d="M411.1 321.5 L412.2 316.5 L414.9 313.8 L417.1 311.6 L419.3 307.3 L420.9 304 L424.7 301.8 L426.4 298.5 L426.9 294.2 L427.4 292 L428.4 287.1 L429.5 278.4 L431.6 275.1 L434.9 272.9 L438.2 269.6 L439.8 266.4 L441 263 L442.9 260.4 L443.5 256 L446.2 250.5 L450.5 246.2 L454.9 244 L458.2 241.8 L459.3 238.5 L462.5 234.2 L463.3 233 L463.3 227.1 L466 221.6 L468.2 215.1 L470.4 210.7 L472 208 L476.9 206.4 L485 205.1 L495.9 202.4 L503.5 200.7 L507.9 196.9 L514.5 194.7 L522.1 193.6 L527.5 192.5" fill="none" stroke="#ffc820" stroke-width="1.1" stroke-linejoin="round"/>
<rect x="404.5" y="179" width="135.8" height="143.1" fill="none" stroke="#333" stroke-width="1"/>
<path d="M403 322.1H406.5M404.5 316.9H406M404.5 311.69H406M404.5 306.49H406M404.5 301.29H406M403 296.08H406.5M404.5 290.88H406M404.5 285.67H406M404.5 280.47H406M404.5 275.27H406M403 270.06H406.5M404.5 264.86H406M404.5 259.66H406M404.5 254.45H406M404.5 249.25H406M403 244.05H406.5M404.5 238.84H406M404.5 233.64H406M404.5 228.43H406M404.5 223.23H406M403 218.03H406.5M404.5 212.82H406M404.5 207.62H406M404.5 202.42H406M404.5 197.21H406M403 192.01H406.5M404.5 186.81H406M404.5 181.6H406M404.5 323.6V320.1M413.55 322.1V320.6M422.61 322.1V320.6M431.66 322.1V320.6M440.71 322.1V320.6M449.77 323.6V320.1M458.82 322.1V320.6M467.87 322.1V320.6M476.93 322.1V320.6M485.98 322.1V320.6M495.03 323.6V320.1M504.09 322.1V320.6M513.14 322.1V320.6M522.19 322.1V320.6M531.25 322.1V320.6M540.3 323.6V320.1" stroke="#333" stroke-width="0.8" fill="none"/>
<text transform="translate(399.4 323.9)" font-size="6.2" text-anchor="end" style="stroke-width:0.13px">0</text>
<text transform="translate(399.4 297.88)" font-size="6.2" text-anchor="end" style="stroke-width:0.13px">0.2</text>
<text transform="translate(399.4 271.86)" font-size="6.2" text-anchor="end" style="stroke-width:0.13px">0.4</text>
<text transform="translate(399.4 245.85)" font-size="6.2" text-anchor="end" style="stroke-width:0.13px">0.6</text>
<text transform="translate(399.4 219.83)" font-size="6.2" text-anchor="end" style="stroke-width:0.13px">0.8</text>
<text transform="translate(399.4 193.81)" font-size="6.2" text-anchor="end" style="stroke-width:0.13px">1</text>
<text transform="translate(404.5 331.6)" font-size="6.2" text-anchor="middle" style="stroke-width:0.13px">0</text>
<text transform="translate(449.77 331.6)" font-size="6.2" text-anchor="middle" style="stroke-width:0.13px">200</text>
<text transform="translate(495.03 331.6)" font-size="6.2" text-anchor="middle" style="stroke-width:0.13px">400</text>
<text transform="translate(540.3 331.6)" font-size="6.2" text-anchor="middle" style="stroke-width:0.13px">600</text>
<text transform="translate(387.1 250.05) rotate(-90)" font-size="6.0" text-anchor="middle" style="stroke-width:0.08px">Probability</text>
<text transform="translate(473 340.4)" font-size="6.1" text-anchor="middle" style="stroke-width:0.18px">Discharge (10<tspan font-size="3.8" dy="-1.9">6</tspan><tspan dy="1.9"> m</tspan><tspan font-size="3.8" dy="-1.9">3</tspan><tspan dy="1.9">)</tspan></text>
<text transform="translate(413.5 192.4)" font-size="6.7">Jun.</text>
<path d="M471.5 244H483" stroke="#383838" stroke-width="1.3" stroke-opacity="0.8"/>
<text x="484.7" y="246.1" font-size="5.95">Observed Discharge</text>
<path d="M471.5 260.6H483" stroke="#ff3030" stroke-width="1.3" stroke-opacity="0.8"/>
<text transform="translate(484.7 262.7)" font-size="5.95">Observed</text>
<text transform="translate(512.4 262.5)" font-size="8.1" style="font-weight:normal;stroke-width:0.3px">precip</text>
<path d="M471.5 277.7H483" stroke="#3ccf6e" stroke-width="1.3" stroke-opacity="0.8"/>
<text x="484.7" y="279.8" font-size="5.95">APHRODITE</text>
<path d="M471.5 294.4H483" stroke="#3f95e0" stroke-width="1.3" stroke-opacity="0.8"/>
<text x="484.7" y="296.5" font-size="5.95">GPCC</text>
<path d="M471.5 311H483" stroke="#ffc820" stroke-width="1.3" stroke-opacity="0.8"/>
<text x="484.7" y="313.1" font-size="5.95">CRU</text>
</svg></body></html>
